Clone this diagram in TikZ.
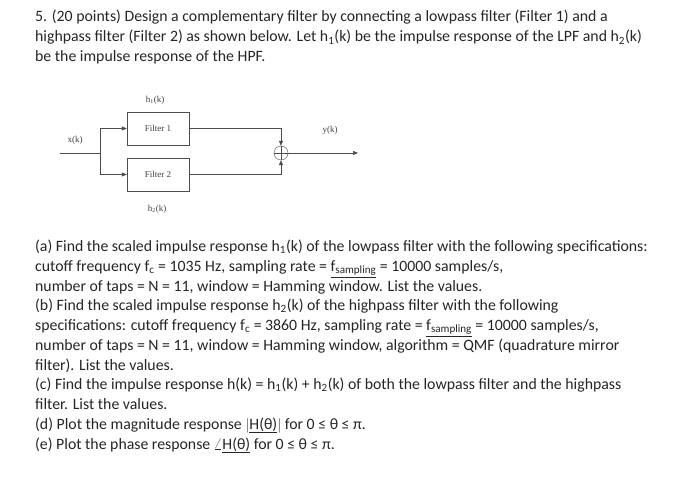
\documentclass[tikz,border=0pt]{standalone}
\usepackage{fontspec}
\setmainfont{Carlito}
\newfontfamily\dserif{Liberation Serif}
\usetikzlibrary{arrows.meta}
\begin{document}
\begin{tikzpicture}[x=1pt,y=-1pt,
  txt/.style={anchor=base west,inner sep=0pt,font=\fontsize{15.8}{17}\selectfont,text=black!85},
  lbl/.style={inner sep=0pt,font=\dserif\fontsize{9}{10}\selectfont,text=black!75},
  box/.style={draw=black!70,minimum width=62pt,minimum height=33pt,inner sep=0pt,font=\dserif\fontsize{9}{10}\selectfont,text=black!75},
  wire/.style={draw=black!70,line width=0.5pt},
  arr/.style={wire,-{Triangle[length=5pt,width=4pt]}}]
\useasboundingbox[fill=white] (0,0) rectangle (700,476);
\node[txt] (l1) at (35,22) {5. (20 points) Design a complementary filter by connecting a lowpass filter (Filter 1) and a};
\node[txt] (l2) at (35,42) {highpass filter (Filter 2) as shown below. Let h\textsubscript{1}(k) be the impulse response of the LPF and h\textsubscript{2}(k)};
\node[txt] (l3) at (35,62) {be the impulse response of the HPF.};
% diagram
\node[box] (f1) at (158,128.5) {Filter 1};
\node[box] (f2) at (158,174.5) {Filter 2};
\node[draw=black!70,circle,minimum size=14pt,inner sep=0pt] (s) at (281,153) {};
\draw[black!70] (s.north)--(s.south) (s.west)--(s.east);
\coordinate (in) at (60,153);
\coordinate (br) at (100,153);
\coordinate (out) at (358,153);
\draw[wire] (in)--(br);
\draw[arr] (br) |- (f1.west);
\draw[arr] (br) |- (f2.west);
\draw[arr] (f1.east) -| (s.north);
\draw[arr] (f2.east) -| (s.south);
\draw[arr] (s.east)--(out);
\node[lbl] (xk) at (75,140) {x(k)};
\node[lbl] (yk) at (330,130) {y(k)};
\node[lbl] (h1) at (155,100) {h\textsubscript{1}(k)};
\node[lbl] (h2) at (157,209) {h\textsubscript{2}(k)};
% questions
\node[txt] (a1) at (35,251) {(a) Find the scaled impulse response h\textsubscript{1}(k) of the lowpass filter with the following specifications:};
\node[txt] (a2) at (35,271) {cutoff frequency f\textsubscript{c} = 1035 Hz, sampling rate = \underline{f\textsubscript{sampling}} = 10000 samples/s,};
\node[txt] (a3) at (35,291) {number of taps = N = 11, window = Hamming window. List the values.};
\node[txt] (b1) at (35,310) {(b) Find the scaled impulse response h\textsubscript{2}(k) of the highpass filter with the following};
\node[txt] (b2) at (35,330) {specifications: cutoff frequency f\textsubscript{c} = 3860 Hz, sampling rate = \underline{f\textsubscript{sampling}} = 10000 samples/s,};
\node[txt] (b3) at (35,350) {number of taps = N = 11, window = Hamming window, algorithm = QMF (quadrature mirror};
\node[txt] (b4) at (35,370) {filter). List the values.};
\node[txt] (c1) at (35,389) {(c) Find the impulse response h(k) = h\textsubscript{1}(k) + h\textsubscript{2}(k) of both the lowpass filter and the highpass};
\node[txt] (c2) at (35,409) {filter. List the values.};
\node[txt] (d1) at (35,429) {(d) Plot the magnitude response $|$\underline{H(θ)}$|$ for 0 ≤ θ ≤ π.};
\node[txt] (e1) at (35,449) {(e) Plot the phase response $\angle$\underline{H(θ)} for 0 ≤ θ ≤ π.};
\end{tikzpicture}
\end{document}
